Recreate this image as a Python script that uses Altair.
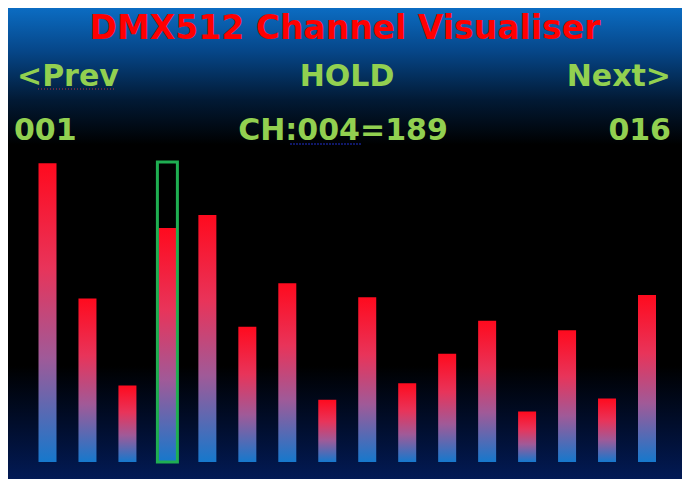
import altair as alt
import pandas as pd

# ---- data ----
channels = list(range(1, 17))
values = [254, 139, 65, 199, 210, 115, 152, 53, 140, 67, 92, 120, 43, 112, 54, 142]
selected_channel = [4]
full_scale = [255]

title_text = ["DMX512 Channel Visualiser"]
nav_labels = ["<Prev", "HOLD", "Next>"]
info_labels = ["001", "CH:004=189", "016"]

W, H = 674, 471

bars_df = pd.DataFrame({"channel": channels, "value": values})
sel_df = pd.DataFrame({"channel": selected_channel, "full": full_scale})
one = pd.DataFrame({"k": [0]})

xs = alt.Scale(domain=[1, 16], range=[39.5, 639], padding=0, nice=False, zero=False)
ys = alt.Scale(domain=[0, 255], range=[454, 154], nice=False, zero=True, padding=0)

bg_grad = alt.LinearGradient(
    gradient="linear",
    stops=[
        alt.GradientStop(color="#0b6cc2", offset=0),
        alt.GradientStop(color="#06478a", offset=0.09),
        alt.GradientStop(color="#021a35", offset=0.195),
        alt.GradientStop(color="#000000", offset=0.29),
        alt.GradientStop(color="#000000", offset=0.76),
        alt.GradientStop(color="#021a55", offset=1),
    ],
    x1=0, x2=0, y1=0, y2=1,
)

bar_grad = alt.LinearGradient(
    gradient="linear",
    stops=[
        alt.GradientStop(color="#ff0a1e", offset=0),
        alt.GradientStop(color="#e8345a", offset=0.35),
        alt.GradientStop(color="#a05a98", offset=0.65),
        alt.GradientStop(color="#1678cc", offset=1),
    ],
    x1=0, x2=0, y1=0, y2=1,
)

background = alt.Chart(one).mark_rect(fill=bg_grad).encode(
    x=alt.value(0), x2=alt.value(W), y=alt.value(0), y2=alt.value(H)
)

bars = alt.Chart(bars_df).mark_bar(width=18, fill=bar_grad).encode(
    x=alt.X("channel:Q", scale=xs, axis=None),
    y=alt.Y("value:Q", scale=ys, axis=None),
)

box = alt.Chart(sel_df).mark_bar(
    width=20, fillOpacity=0, stroke="#1fae52", strokeWidth=3
).encode(
    x=alt.X("channel:Q", scale=xs, axis=None),
    y=alt.Y("full:Q", scale=ys, axis=None),
)

FONT = "DejaVu Sans"
GREEN = "#92d050"


def label(txt, x, y, size, color, align):
    return alt.Chart(pd.DataFrame({"t": [txt]})).mark_text(
        font=FONT, fontWeight="bold", fontSize=size, color=color,
        align=align, baseline="alphabetic",
    ).encode(text="t:N", x=alt.value(x), y=alt.value(y))


texts = [
    label(title_text[0], 337, 30.5, 33, "#ff0000", "center"),
    label(nav_labels[0], 9, 78, 30, GREEN, "left"),
    label(nav_labels[1], 339, 78, 30, GREEN, "center"),
    label(nav_labels[2], 663, 78, 30, GREEN, "right"),
    label(info_labels[0], 6, 131.5, 30, GREEN, "left"),
    label(info_labels[1], 335, 131.5, 30, GREEN, "center"),
    label(info_labels[2], 663, 131.5, 30, GREEN, "right"),
]

# spell-check style underlines (decorative)
prev_line = alt.Chart(one).mark_rule(
    color="#c03040", strokeWidth=1, strokeDash=[1, 2]
).encode(x=alt.value(30), x2=alt.value(108), y=alt.value(81))
ch_line = alt.Chart(one).mark_rule(
    color="#2030d0", strokeWidth=1.2, strokeDash=[2, 1]
).encode(x=alt.value(282), x2=alt.value(354), y=alt.value(136))

chart = alt.layer(background, bars, box, *texts, prev_line, ch_line).properties(
    width=W, height=H, padding=0,
    autosize=alt.AutoSizeParams(type="none"),
).configure_view(stroke=None).configure(background="#000000")

chart.save("out.html", embed_options={"renderer": "svg", "actions": False})
